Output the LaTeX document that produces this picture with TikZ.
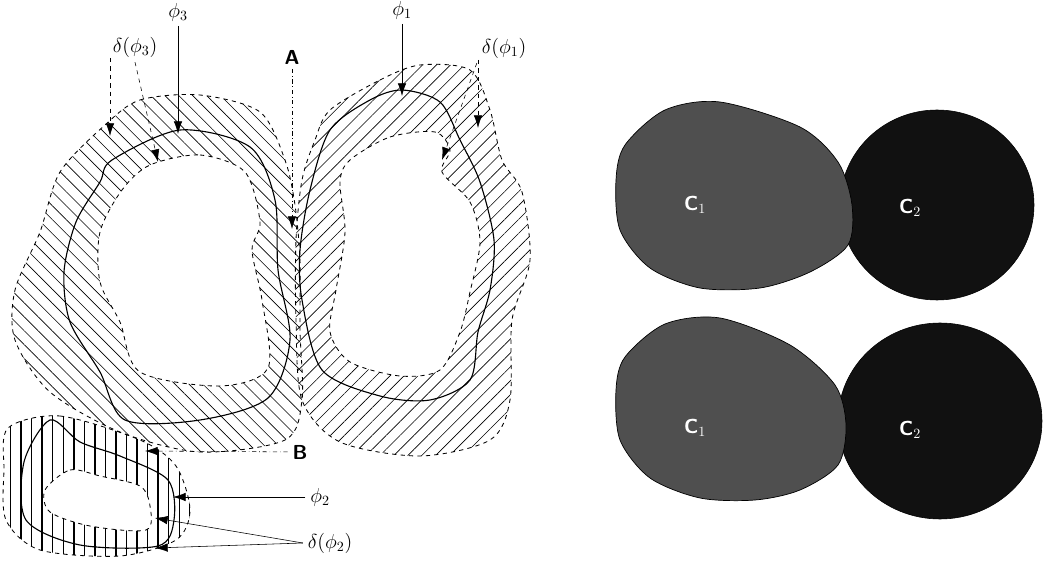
\documentclass[tikz,border=0pt]{standalone}
\usepackage{amsmath}
\usepackage{xcolor}
\usetikzlibrary{patterns.meta,arrows.meta}
\definecolor{cellgray}{HTML}{4F4F4F}
\definecolor{celldark}{HTML}{111111}
\tikzset{
  hatchA/.style={pattern={Lines[angle=-45,distance=7pt,line width=0.45pt]}},
  hatchB/.style={pattern={Lines[angle=45,distance=7pt,line width=0.45pt]}},
  hatchC/.style={pattern={Lines[angle=90,distance=7.5pt,line width=1pt]}},
  band/.style={dashed,line width=0.6pt},
  front/.style={line width=0.8pt},
  tip/.style={-{Latex[length=9pt,width=6pt]}},
  lbl/.style={font=\Large},
  cell/.style={draw=black,line width=0.5pt},
  celltxt/.style={text=white,font=\sffamily\bfseries\Large}
}
\begin{document}
\begin{tikzpicture}[x=0.025cm,y=-0.025cm]
        \useasboundingbox (0,0) rectangle (1048,571);
        % phi_3 band
        \def\outerA{(105,125) (140,100) (200,95) (260,112) (285,160) (295,205) (300,260) (300,330) (302,400) (285,440) (200,452) (120,432) (50,392) (15,340) (15,290) (40,232) (60,172)}
        \def\innerA{(150,165) (200,155) (245,172) (260,222) (252,250) (262,300) (268,368) (220,386) (140,372) (120,322) (100,282) (100,232) (122,190)}
        \path[hatchA,even odd rule] plot[smooth cycle] coordinates {\outerA} plot[smooth cycle] coordinates {\innerA};
        \draw[band] plot[smooth cycle] coordinates {\outerA};
        \draw[band] plot[smooth cycle] coordinates {\innerA};
        \draw[front] plot[smooth cycle] coordinates {(112,160) (180,130) (250,147) (275,200) (278,270) (290,340) (268,398) (200,420) (125,420) (100,372) (70,322) (64,272) (76,222) (100,182)};

        % phi_1 band
        \def\outerB{(330,110) (380,80) (420,65) (470,70) (490,110) (502,160) (522,192) (530,260) (512,320) (510,400) (490,440) (420,456) (340,442) (302,400) (296,320) (296,240) (302,180) (315,140)}
        \def\innerB{(350,160) (390,137) (435,132) (450,150) (442,172) (470,202) (480,242) (470,292) (460,332) (440,370) (400,376) (350,362) (330,332) (336,290) (345,232) (340,182)}
        \path[hatchB,even odd rule] plot[smooth cycle] coordinates {\outerB} plot[smooth cycle] coordinates {\innerB};
        \draw[band] plot[smooth cycle] coordinates {\outerB};
        \draw[band] plot[smooth cycle] coordinates {\innerB};
        \draw[front] plot[smooth cycle] coordinates {(330,130) (370,100) (402,90) (440,102) (460,140) (480,182) (494,240) (490,290) (478,332) (470,380) (430,400) (380,396) (322,370) (302,300) (300,250) (310,190)};

        % phi_2 band
        \def\outerC{(8,428) (60,416) (140,440) (176,466) (190,510) (176,540) (120,556) (40,550) (6,520) (4,470)}
        \def\innerC{(45,490) (70,470) (100,476) (140,486) (150,506) (146,530) (90,526) (50,512)}
        \path[hatchC,even odd rule] plot[smooth cycle] coordinates {\outerC} plot[smooth cycle] coordinates {\innerC};
        \draw[band] plot[smooth cycle] coordinates {\outerC};
        \draw[band] plot[smooth cycle] coordinates {\innerC};
        \draw[front] plot[smooth cycle] coordinates {(50,420) (80,442) (120,456) (168,480) (174,520) (158,546) (80,545) (26,520) (24,462)};

        % labels and arrows
        \node[lbl] (phithree) at (178,12) {$\phi_3$};
        \coordinate (phithreeend) at (178,134);
        \draw[tip] (phithree) -- (phithreeend);
        \node[lbl] (dphithree) at (135,47) {$\delta(\phi_3)$};
        \coordinate (dthreetop) at (110,58);
        \coordinate (dthreea) at (110,136);
        \coordinate (dthreeb) at (158,162);
        \draw[tip,dashed] (dthreetop) -- (dthreea);
        \draw[tip,dashed] (dphithree.south) -- (dthreeb);
        \node[font=\sffamily\bfseries\Large] (ptA) at (292,57) {A};
        \coordinate (ptAend) at (292,229);
        \draw[tip,dash dot] (ptA) -- (ptAend);
        \node[lbl] (phione) at (402,10) {$\phi_1$};
        \coordinate (phioneend) at (402,96);
        \draw[tip] (phione) -- (phioneend);
        \node[lbl] (dphione) at (504,48) {$\delta(\phi_1)$};
        \coordinate (donetop) at (478,60);
        \coordinate (donea) at (478,128);
        \coordinate (doneb) at (442,160);
        \draw[tip,dashed] (donetop) -- (donea);
        \draw[tip,dashed] (dphione.south west) -- (doneb);
        \node[font=\sffamily\bfseries\Large] (ptB) at (300,452) {B};
        \coordinate (ptBend) at (145,451);
        \draw[tip,dash dot] (ptB) -- (ptBend);
        \node[lbl] (phitwo) at (320,497) {$\phi_2$};
        \coordinate (phitwoend) at (173,497);
        \draw[tip] (phitwo) -- (phitwoend);
        \node[lbl] (dphitwo) at (330,543) {$\delta(\phi_2)$};
        \coordinate (dtwoa) at (155,518);
        \coordinate (dtwob) at (155,548);
        \draw[tip] (dphitwo.west) -- (dtwoa);
        \draw[tip] (dphitwo.west) -- (dtwob);

        % cells, top pair
        \fill[celldark,draw=black] (937,205) ellipse (97 and 95);
        \filldraw[cell,fill=cellgray] plot[smooth cycle] coordinates {(625,145) (665,110) (720,102) (800,127) (838,162) (852,205) (848,245) (810,272) (760,288) (700,288) (650,268) (620,230) (616,180)};
        \node[celltxt] (cone) at (695,205) {C$_1$};
        \node[celltxt] (ctwo) at (910,208) {C$_2$};

        % cells, bottom pair
        \fill[celldark,draw=black] (940,421) ellipse (102 and 98);
        \filldraw[cell,fill=cellgray] plot[smooth cycle] coordinates {(625,357) (665,324) (720,318) (790,345) (835,385) (846,425) (838,465) (800,490) (755,500) (700,498) (650,478) (620,440) (616,390)};
        \node[celltxt] (conel) at (695,428) {C$_1$};
        \node[celltxt] (ctwol) at (910,430) {C$_2$};
\end{tikzpicture}
\end{document}
